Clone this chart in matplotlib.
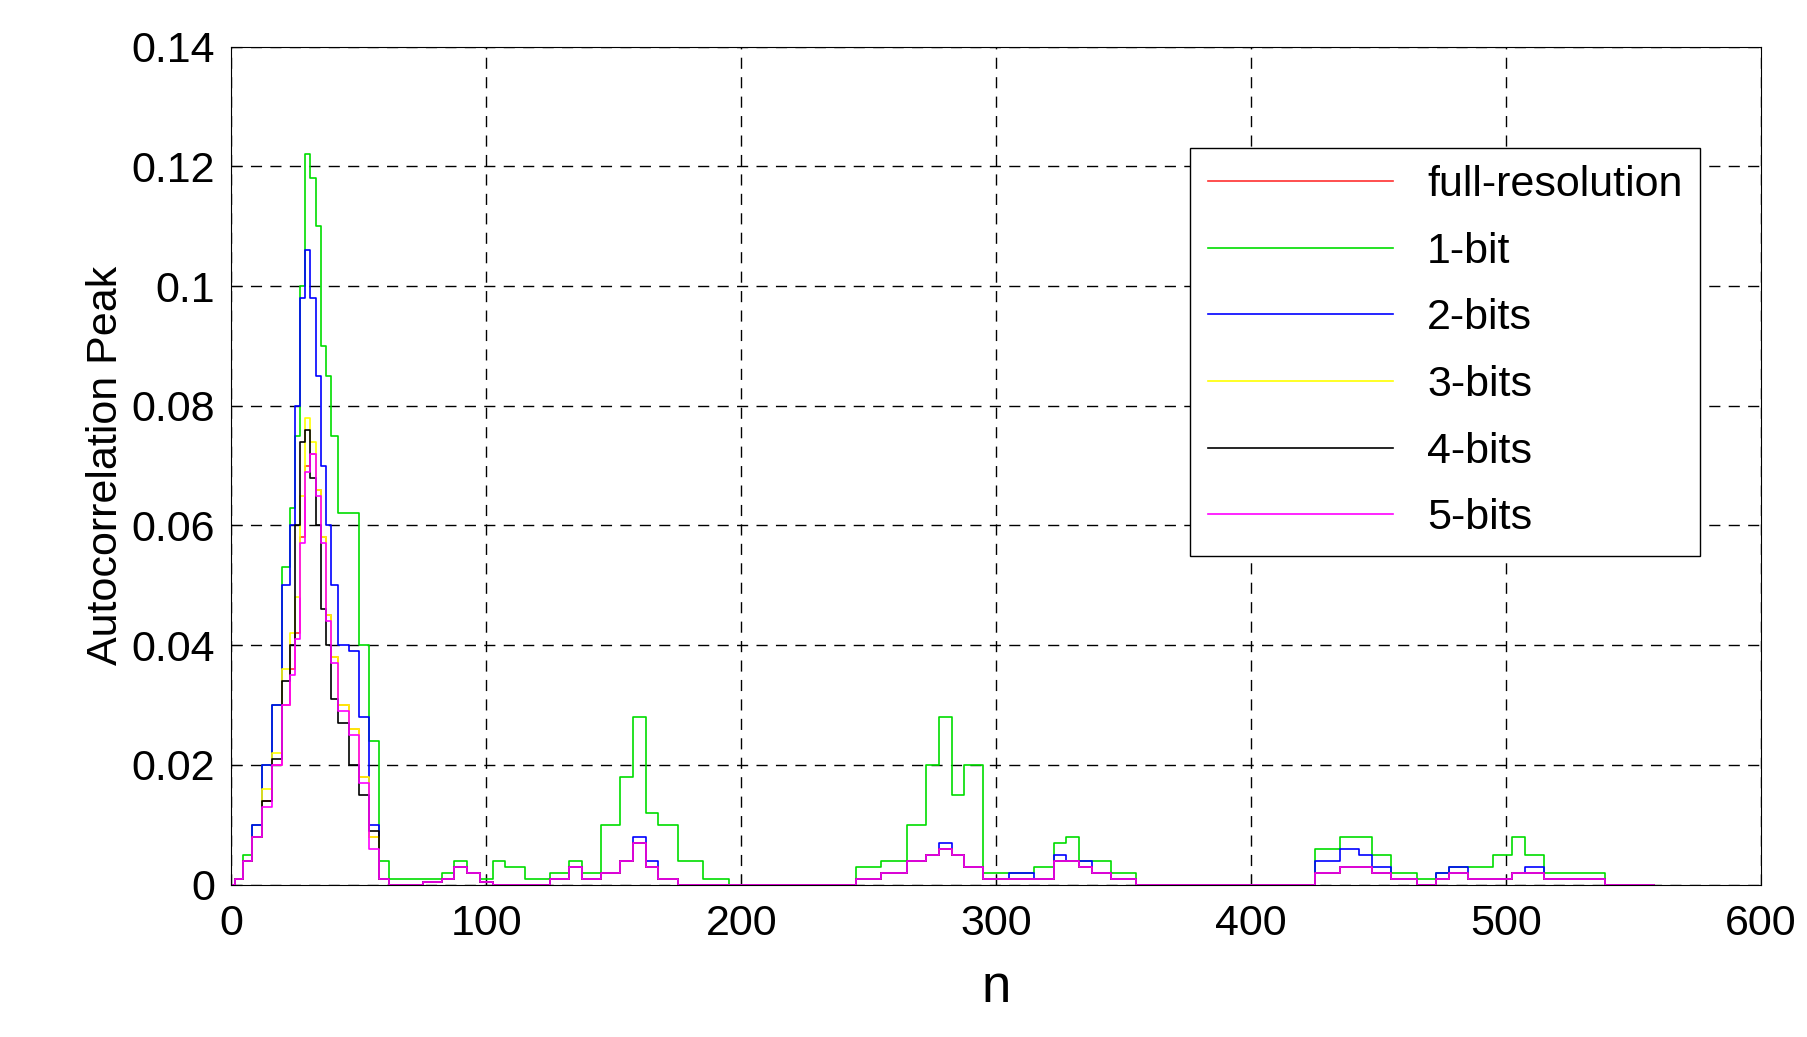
import matplotlib.pyplot as plt

plt.rcParams['font.family'] = ['Liberation Sans', 'DejaVu Sans']

n = [0, 3, 6, 10, 14, 18, 22, 24, 26, 28, 30, 32, 34, 36, 38, 40, 44, 48, 52, 56,
     60, 64, 70, 80, 85, 90, 95, 100, 105, 110, 120, 130, 135, 140, 150, 155, 160, 165, 170, 180,
     190, 200, 240, 250, 260, 270, 275, 280, 285, 290, 300, 310, 320, 325, 330, 335, 340, 350, 360, 420,
     430, 440, 445, 450, 460, 470, 475, 480, 490, 500, 505, 510, 520, 558]

tail_common = [.001, 0, 0, .0005, .001, .003, .002, .0005, 0, 0,
               0, .001, .003, .001, .002, .004, .007, .003, .001, 0,
               0, 0, 0, .001, .002, .004, .005, .006, .005, .003,
               .001, .001, .001, .004, .004, .003, .002, .001, 0, 0,
               .002, .003, .003, .002, .001, 0, .001, .002, .001, .001,
               .002, .002, .001, 0]

full_res = [0, .001, .004, .008, .014, .02, .03, .036, .042, .058,
            .07, .072, .066, .058, .045, .038, .03, .026, .018, .008] + tail_common
one_bit = [0, .001, .005, .01, .02, .03, .053, .063, .075, .1,
           .122, .118, .11, .09, .085, .075, .062, .062, .04, .024,
           .004, .001, .001, .001, .002, .004, .002, .001, .004, .003,
           .001, .002, .004, .002, .01, .018, .028, .012, .01, .004,
           .001, 0, 0, .003, .004, .01, .02, .028, .015, .02,
           .002, .002, .003, .007, .008, .004, .004, .002, 0, 0,
           .006, .008, .008, .005, .002, .001, .002, .003, .003, .005,
           .008, .005, .002, 0]
two_bits = [0, .001, .004, .01, .02, .03, .05, .06, .08, .098,
            .106, .098, .085, .07, .06, .05, .04, .039, .028, .01,
            .001, 0, 0, .0005, .001, .003, .002, .0005, 0, 0,
            0, .001, .003, .001, .002, .004, .008, .004, .001, 0,
            0, 0, 0, .001, .002, .004, .005, .007, .005, .003,
            .001, .002, .001, .005, .004, .004, .002, .001, 0, 0,
            .004, .006, .005, .003, .001, 0, .002, .003, .001, .001,
            .002, .003, .001, 0]
three_bits = [0, .001, .004, .008, .016, .022, .036, .042, .048, .065,
              .078, .074, .066, .058, .045, .038, .03, .026, .018, .008] + tail_common
four_bits = [0, .001, .004, .008, .014, .021, .034, .04, .06, .074,
             .076, .068, .06, .046, .04, .031, .027, .02, .015, .009] + tail_common
five_bits = [0, .001, .004, .008, .013, .02, .03, .035, .041, .057,
             .069, .072, .065, .057, .044, .037, .029, .025, .017, .006] + tail_common

series = [("full-resolution", full_res, "#ff3030"),
          ("1-bit", one_bit, "#00dd00"),
          ("2-bits", two_bits, "#0000ff"),
          ("3-bits", three_bits, "#ffff00"),
          ("4-bits", four_bits, "#000000"),
          ("5-bits", five_bits, "#ff00ff")]

fig = plt.figure(figsize=(18.08, 10.37), dpi=100)
ax = fig.add_axes([0.128, 0.147, 0.846, 0.808])
for label, y, c in series:
    ax.plot(n, y, color=c, lw=1.2, label=label, drawstyle="steps-mid")

ax.set_xlim(0, 600)
ax.set_ylim(0, 0.14)
ax.set_xticks(range(0, 601, 100))
ax.set_yticks([0, 0.02, 0.04, 0.06, 0.08, 0.1, 0.12, 0.14])
ax.set_yticklabels(["0", "0.02", "0.04", "0.06", "0.08", "0.1", "0.12", "0.14"])
ax.tick_params(labelsize=31, direction="in", length=8)
ax.tick_params(axis="x", pad=14)
ax.tick_params(axis="y", pad=12)
ax.grid(True, color="black", linestyle=(0, (8, 6)), lw=1)
ax.set_xlabel("n", fontsize=38, labelpad=14)
ax.set_ylabel("Autocorrelation Peak", fontsize=31)

leg = ax.legend(loc="upper right", bbox_to_anchor=(0.974, 0.905), fontsize=31,
                handlelength=4.3, fancybox=False, framealpha=1, edgecolor="black",
                labelspacing=0.62)
leg.get_frame().set_linewidth(1)

fig.savefig("out.png", dpi=100)
